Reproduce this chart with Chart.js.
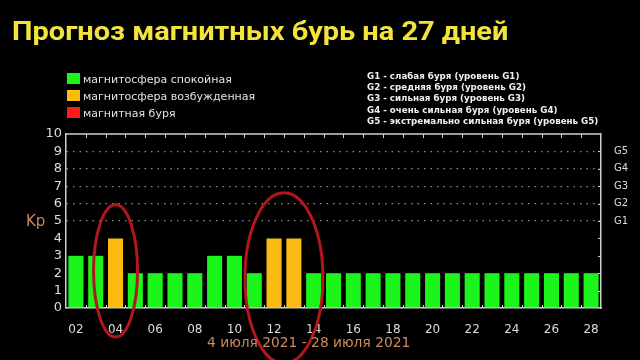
<!DOCTYPE html>
<html>
<head>
<meta charset="utf-8">
<script src="https://cdn.jsdelivr.net/npm/chart.js@4"></script>
<style>
body{margin:0;background:#000;width:640px;height:360px;overflow:hidden;position:relative;font-family:"DejaVu Sans",sans-serif}
#c{position:absolute;left:0;top:0}
.abs{position:absolute;white-space:nowrap;transform-origin:0 50%}
#title{left:12px;top:19px;color:#f3e43c;font:bold 25px Roboto;line-height:25px}
.leg{left:67px;color:#e2e2e2;font-size:11px;line-height:14px}
.leg i{display:inline-block;width:13px;height:11px;vertical-align:-1px;margin-right:3px}
#glegend{left:367px;top:71px;color:#f0f0f0;font:bold 9px "DejaVu Sans";line-height:11.2px}
#kp{left:26px;top:212px;color:#c9855f;font-size:15px;line-height:18px}
#period{left:207px;top:334px;color:#cf8a5e;font-size:14px;line-height:16px}
</style>
</head>
<body>
<canvas id="c" width="640" height="360"></canvas>
<div id="title" class="abs" data-w="496">Прогноз магнитных бурь на 27 дней</div>
<div id="glegend" class="abs" data-w="231"></div>
<div id="kp" class="abs">Kp</div>
<div id="period" class="abs" data-w="203">4 июля 2021 - 28 июля 2021</div>
<script>
// дни июля
let days = ['02','03','04','05','06','07','08','09','10','11','12','13','14','15',
    '16','17','18','19','20','21','22','23','24','25','26','27','28']
// индекс Kp по дням
let kp = [3,3,4,2,2,2,2,3,3,2,4,4,2,2,2,2,2,2,2,2,2,2,2,2,2,2,2]

let legendNames = ['магнитосфера спокойная', 'магнитосфера возбужденная', 'магнитная буря']
let legendColors = ['#1cf51c', '#fbbb12', '#ff1a1a']

let gLevels = [5, 6, 7, 8, 9]
let gNames = ['G1', 'G2', 'G3', 'G4', 'G5']
let gTexts = ['слабая буря', 'средняя буря', 'сильная буря', 'очень сильная буря', 'экстремально сильная буря']

// выделенные дни (эллипсы): центр по индексу дня и Kp, радиусы в днях и Kp
let rings = [
    {i: 2, v: 2.13, ri: 1.11, rv: 3.8},
    {i: 10.5, v: 1.72, ri: 1.97, rv: 4.9}
]

// легенда слева
legendNames.forEach((name, n)=>{
    let d = document.createElement('div')
    d.className = 'abs leg'
    d.style.top = (72.5 + n * 17) + 'px'
    d.innerHTML = `<i style="background:${legendColors[n]}"></i>${name}`
    if (n == 1) d.dataset.w = '188'
    document.body.appendChild(d)
})
// легенда справа
document.querySelector('#glegend').innerHTML = gNames.map((g, n)=>
    `${g} - ${gTexts[n]} (уровень ${g})`).join('<br>')

for (let el of document.querySelectorAll('[data-w]')){
    let w = el.scrollWidth
    el.style.transform = `scaleX(${el.dataset.w / w})`
}

function barColor(v){
    if (v >= 5) return legendColors[2]
    if (v >= 4) return legendColors[1]
    return legendColors[0]
}

let boxColor = '#cfcfcf'

const frame = {
    id: 'frame',
    afterDatasetsDraw(chart){
        let ctx = chart.ctx
        let a = chart.chartArea
        let x = chart.scales.x
        let y = chart.scales.y
        ctx.save()
        ctx.strokeStyle = boxColor
        ctx.lineWidth = 1.5
        ctx.beginPath()
        ctx.moveTo(a.left, a.top)
        ctx.lineTo(a.right, a.top)
        ctx.stroke()
        ctx.lineWidth = 1
        ctx.beginPath()
        for (let i = 1; i < days.length; i++){
            let px = Math.round((x.getPixelForValue(i - 1) + x.getPixelForValue(i)) / 2) + 0.5
            ctx.moveTo(px, a.top)
            ctx.lineTo(px, a.top + 4)
            ctx.moveTo(px, a.bottom)
            ctx.lineTo(px, a.bottom - 3)
        }
        for (let v = 1; v < 10; v++){
            let py = Math.round(y.getPixelForValue(v)) + 0.5
            ctx.moveTo(a.right, py)
            ctx.lineTo(a.right - 3, py)
        }
        ctx.stroke()

        // эллипсы
        let cw = x.getPixelForValue(1) - x.getPixelForValue(0)
        let uh = y.getPixelForValue(0) - y.getPixelForValue(1)
        ctx.strokeStyle = '#b3161d'
        ctx.lineWidth = 3
        for (let r of rings){
            ctx.beginPath()
            ctx.ellipse(x.getPixelForValue(r.i), y.getPixelForValue(r.v), r.ri * cw, r.rv * uh, 0, 0, Math.PI * 2)
            ctx.stroke()
        }
        ctx.restore()
    }
}

let tickFont = {family: 'DejaVu Sans', size: 12}

new Chart(document.querySelector('#c').getContext('2d'), {
    type: 'bar',
    data: {
        labels: days,
        datasets: [{
            data: kp,
            backgroundColor: kp.map(barColor),
            barPercentage: 0.76,
            categoryPercentage: 1
        }]
    },
    options: {
        animation: false,
        responsive: false,
        events: [],
        layout: {padding: {top: 134, left: 0, right: 0, bottom: 0}},
        plugins: {legend: {display: false}, tooltip: {enabled: false}},
        scales: {
            x: {
                offset: true,
                grid: {display: false},
                border: {display: true, color: boxColor, width: 1.5},
                ticks: {
                    color: '#dcdcdc', font: tickFont, padding: 7, autoSkip: false, maxRotation: 0,
                    callback: (v, i) => i % 2 == 0 ? days[i] : ''
                },
                afterFit: s => { s.height = 52 }
            },
            y: {
                min: 0, max: 10,
                ticks: {stepSize: 1, autoSkip: false, color: '#dcdcdc', font: {family: 'DejaVu Sans', size: 13}, padding: 4},
                grid: {
                    drawTicks: false,
                    lineWidth: 1.2,
                    color: c => gLevels.includes(c.tick.value) ? '#8c8c8c' : 'rgba(0,0,0,0)'
                },
                border: {display: true, color: boxColor, width: 1.5, dash: [1.5, 5]},
                afterFit: s => { s.width = 66 }
            },
            y2: {
                position: 'right',
                min: 0, max: 10,
                ticks: {
                    stepSize: 1, autoSkip: false, color: '#dcdcdc', font: {family: 'DejaVu Sans', size: 10}, padding: 5,
                    callback: v => gNames[gLevels.indexOf(v)] || ''
                },
                grid: {display: false},
                border: {display: true, color: boxColor, width: 1.5},
                afterFit: s => { s.width = 39 }
            }
        }
    },
    plugins: [frame]
})
</script>
</body>
</html>
